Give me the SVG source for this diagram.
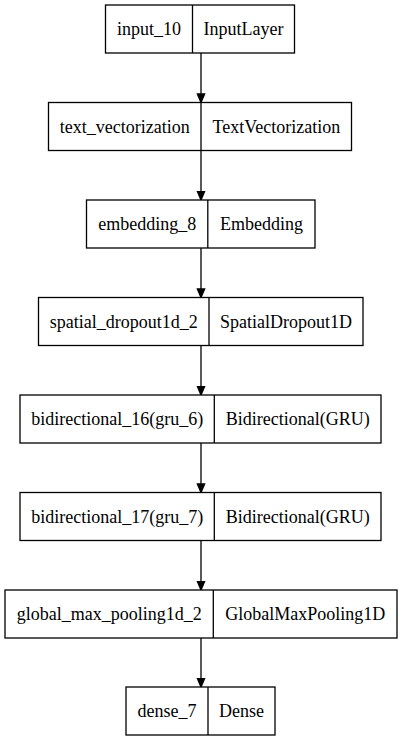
<svg xmlns="http://www.w3.org/2000/svg" width="401" height="741" viewBox="0 0 401 741">
<style>
.box{fill:#fff;stroke:#000;stroke-width:1.3}
.div{stroke:#000;stroke-width:1.3}
text{font-family:"Liberation Serif","Times New Roman",serif;font-size:18px;fill:#000;text-anchor:middle}
.edge{stroke:#000;stroke-width:1.3;fill:none}
</style>
<defs>
<marker id="ah" markerWidth="11" markerHeight="13" refX="11" refY="5.5" orient="auto" markerUnits="userSpaceOnUse" viewBox="0 0 13 11">
<path d="M0,0 L13,5.5 L0,11 Z" fill="#000"/>
</marker>
</defs>
<rect width="401" height="741" fill="#fff"/>
<g id="connectors">
<line class="edge" x1="201" y1="53" x2="201" y2="102.5" marker-end="url(#ah)"/>
<line class="edge" x1="201" y1="150.5" x2="201" y2="200" marker-end="url(#ah)"/>
<line class="edge" x1="201" y1="248" x2="201" y2="297.5" marker-end="url(#ah)"/>
<line class="edge" x1="201" y1="345.5" x2="201" y2="395" marker-end="url(#ah)"/>
<line class="edge" x1="201" y1="443" x2="201" y2="492.5" marker-end="url(#ah)"/>
<line class="edge" x1="201" y1="540.5" x2="201" y2="590" marker-end="url(#ah)"/>
<line class="edge" x1="201" y1="638" x2="201" y2="687" marker-end="url(#ah)"/>
</g>
<g id="input_10">
<rect class="box" x="105.5" y="5" width="189" height="48"/>
<line class="div" x1="192.5" y1="5" x2="192.5" y2="53"/>
<text x="149" y="35">input_10</text>
<text x="243.5" y="35">InputLayer</text>
</g>
<g id="text_vectorization">
<rect class="box" x="48.5" y="102.5" width="303" height="48"/>
<line class="div" x1="201" y1="102.5" x2="201" y2="150.5"/>
<text x="124.8" y="132.5">text_vectorization</text>
<text x="276.3" y="132.5">TextVectorization</text>
</g>
<g id="embedding_8">
<rect class="box" x="86.5" y="200" width="228.5" height="48"/>
<line class="div" x1="207.8" y1="200" x2="207.8" y2="248"/>
<text x="147.2" y="230">embedding_8</text>
<text x="261.4" y="230">Embedding</text>
</g>
<g id="spatial_dropout1d_2">
<rect class="box" x="38.5" y="297.5" width="324.5" height="48"/>
<line class="div" x1="209" y1="297.5" x2="209" y2="345.5"/>
<text x="123.8" y="327.5">spatial_dropout1d_2</text>
<text x="286" y="327.5">SpatialDropout1D</text>
</g>
<g id="bidirectional_16">
<rect class="box" x="20" y="395" width="361" height="48"/>
<line class="div" x1="214.3" y1="395" x2="214.3" y2="443"/>
<text x="117.2" y="425">bidirectional_16(gru_6)</text>
<text x="297.7" y="425">Bidirectional(GRU)</text>
</g>
<g id="bidirectional_17">
<rect class="box" x="20" y="492.5" width="361" height="48"/>
<line class="div" x1="214.3" y1="492.5" x2="214.3" y2="540.5"/>
<text x="117.2" y="522.5">bidirectional_17(gru_7)</text>
<text x="297.7" y="522.5">Bidirectional(GRU)</text>
</g>
<g id="global_max_pooling1d_2">
<rect class="box" x="5" y="590" width="392" height="48"/>
<line class="div" x1="213.3" y1="590" x2="213.3" y2="638"/>
<text x="109.2" y="620">global_max_pooling1d_2</text>
<text x="305.2" y="620">GlobalMaxPooling1D</text>
</g>
<g id="dense_7">
<rect class="box" x="126" y="687" width="149" height="48"/>
<line class="div" x1="208" y1="687" x2="208" y2="735"/>
<text x="167" y="717">dense_7</text>
<text x="241.5" y="717">Dense</text>
</g>
</svg>
